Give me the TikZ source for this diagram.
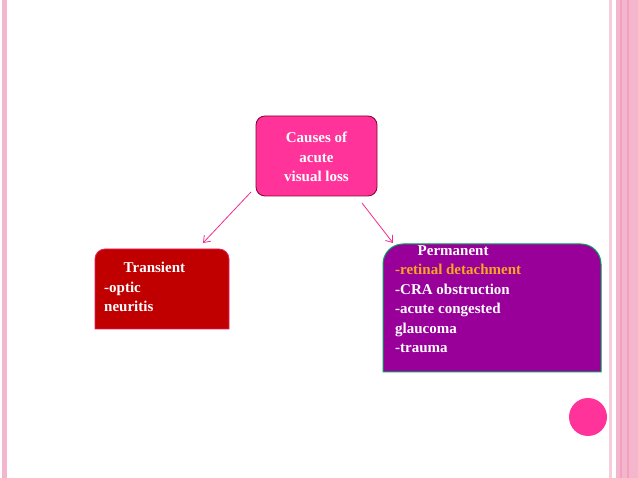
\documentclass[tikz,border=0pt]{standalone}
\usepackage{fontspec}
\setmainfont{Liberation Serif}
\usetikzlibrary{arrows.meta}
\definecolor{pinkA}{HTML}{FF3399}
\definecolor{redB}{HTML}{C00000}
\definecolor{purpC}{HTML}{990099}
\definecolor{stripe}{HTML}{F4B6CC}
\definecolor{orangeT}{HTML}{F5A623}
\tikzset{
 txt/.style={font=\bfseries\fontsize{15}{19.5}\selectfont, text=white, align=left, inner sep=0pt},
 conn/.style={draw=pinkA!85!purple, line width=0.8pt, -{Straight Barb[length=6pt,width=9pt]}}
}
\begin{document}
\begin{tikzpicture}[x=1pt,y=-1pt]
\useasboundingbox (0,0) rectangle (638,478);
\fill[white] (0,0) rectangle (638,478);
% side decorations
\fill[stripe] (2,0) rectangle (7,478);
\fill[stripe!70] (609,0) rectangle (612,478);
\fill[stripe] (616,0) rectangle (638,478);
\fill[stripe!130] (620,0) rectangle (622,478);
\fill[stripe!130] (627,0) rectangle (629,478);
% center box
\draw[fill=pinkA, draw=purple!70!black, rounded corners=9pt, line width=0.8pt] (256,116) rectangle (377,196);
\node[txt, align=center] (c) at (316.5,157) {Causes of\\acute\\visual loss};
% transient
\draw[fill=redB, draw=pinkA!60!redB, line width=0.8pt] (95,329) [rounded corners=10pt]-- (95,249) -- (229,249) [sharp corners]-- (229,329) -- cycle;
\node[txt, anchor=north west] (t) at (104,262) {\hspace*{1.3em}Transient\\-optic\\neuritis};
% permanent
\draw[fill=purpC, draw=teal!70!green, line width=1pt] (383,372) [rounded corners=20pt]-- (383,244) -- (601,244) [sharp corners]-- (601,372) -- cycle;
\node[txt, anchor=north west] (p) at (395,245) {\hspace*{1.5em}Permanent\\\textcolor{orangeT}{-retinal detachment}\\-CRA obstruction\\-acute congested\\glaucoma\\-trauma};
% connectors
\coordinate (a1) at (251,192); \coordinate (a2) at (203,243);
\coordinate (b1) at (362,203); \coordinate (b2) at (393,243);
\draw[conn] (a1) -- (a2);
\draw[conn] (b1) -- (b2);
% circle
\fill[pinkA] (588,417) circle (19);
\end{tikzpicture}
\end{document}
